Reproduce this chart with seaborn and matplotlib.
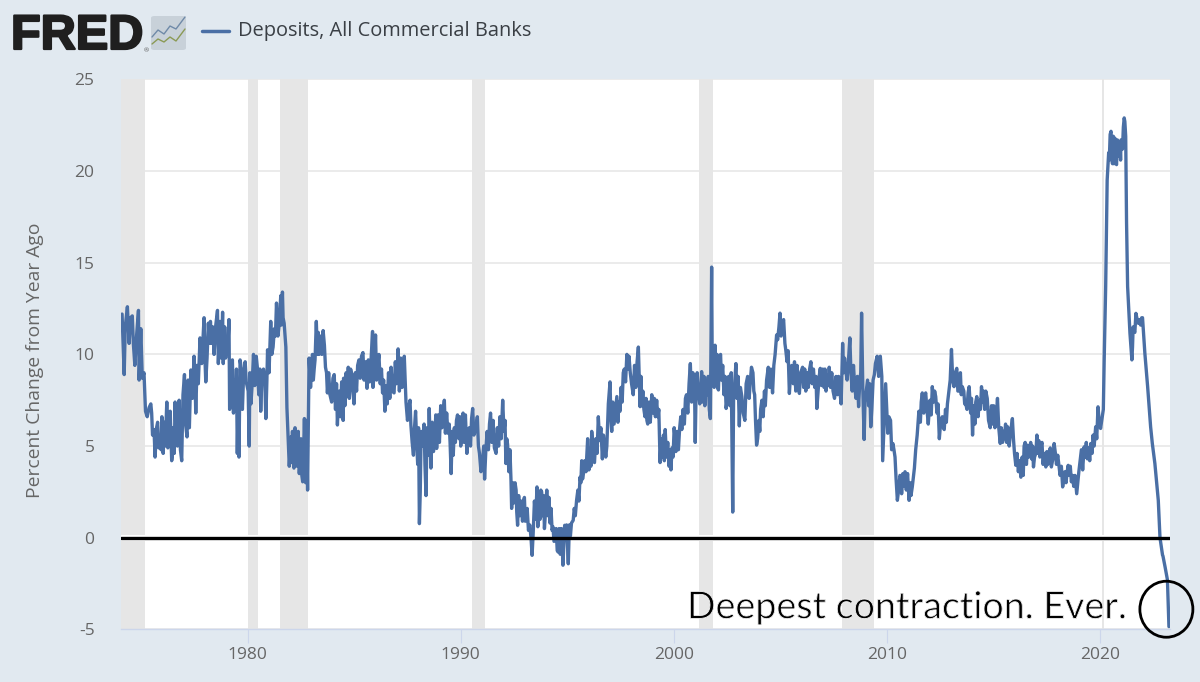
import numpy as np
import pandas as pd
import seaborn as sns
import matplotlib.pyplot as plt
from matplotlib.lines import Line2D
from matplotlib.patches import Ellipse, FancyBboxPatch
import matplotlib.patheffects as pe

# values, one pair of lists per stretch of years
years_70s = [1974.1,1974.2,1974.25,1974.35,1974.43,1974.5,1974.58,1974.63,1974.7,1974.78,
             1974.87,1974.9,1974.98,1975.05,1975.13,1975.2,1975.45,1975.53,1975.65,1975.72,
             1975.82,1975.97,1976.03,1976.2,1976.3,1976.43,1976.5,1976.59,1976.7,1976.78,
             1976.9,1977.03,1977.15,1977.33,1977.48,1977.56,1977.76,1977.95,1978.03,1978.15,
             1978.3,1978.58,1978.62,1978.82,1978.85,1979.0,1979.12,1979.15,1979.28,1979.33,
             1979.51,1979.59,1979.64,1979.75,1979.88]
pct_70s = [12.2,8.9,11.5,12.6,10.6,12.0,12.1,10.6,9.4,11.0,
           12.4,8.6,11.4,8.7,9.0,6.9,7.3,5.6,4.4,6.0,
           4.9,6.6,4.6,7.4,5.4,4.2,6.0,7.4,5.0,7.5,
           4.2,8.9,5.5,9.15,9.9,6.8,10.9,12.0,8.5,11.7,
           10.6,12.4,9.5,12.3,9.5,10.6,11.9,7.0,9.7,6.8,
           4.6,4.4,9.7,7.0,9.6]

years_80s = [1980.07,1980.15,1980.27,1980.45,1980.61,1980.74,1980.85,1980.93,1981.08,1981.19,
             1981.35,1981.48,1981.63,1981.71,1981.79,1981.84,1981.95,1982.1,1982.17,1982.26,
             1982.42,1982.58,1982.66,1982.81,1982.88,1982.95,1983.12,1983.22,1983.35,1983.54,
             1983.74,1983.94,1984.06,1984.21,1984.3,1984.48,1984.5,1984.72,1984.77,1984.9,
             1984.99,1985.22,1985.41,1985.6,1985.86,1985.88,1986.0,1986.1,1986.44,1986.73,
             1986.87,1987.06,1987.25,1987.35,1987.43,1987.57,1987.66,1987.78,1987.88,1988.06,
             1988.2,1988.37,1988.52,1988.6,1988.83,1988.87,1989.06,1989.23,1989.4,1989.55,
             1989.85,1990.0]
pct_80s = [5.0,7.3,10.0,9.3,6.9,9.2,6.5,10.25,11.8,10.4,
           12.8,11.7,13.4,11.7,10.4,7.1,3.9,5.8,3.8,5.3,
           3.5,3.05,6.5,2.6,9.8,8.2,9.2,11.8,10.0,11.3,
           7.9,7.4,8.9,6.15,8.0,6.4,8.7,9.3,7.6,8.8,
           7.3,9.7,10.1,8.15,11.25,8.2,11.06,9.4,6.9,9.3,
           7.9,10.3,8.2,9.9,7.4,7.2,6.15,4.5,6.9,0.77,
           5.0,2.3,7.05,3.8,6.7,4.87,7.2,7.5,5.7,3.5,
           6.7,5.0]

years_90s = [1990.11,1990.29,1990.56,1990.7,1990.95,1991.12,1991.4,1991.66,1991.97,1992.12,
             1992.2,1992.36,1992.39,1992.6,1992.67,1992.99,1993.07,1993.35,1993.58,1993.62,
             1993.8,1993.93,1994.04,1994.33,1994.44,1994.57,1994.8,1994.88,1995.05,1995.28,
             1995.44,1995.6,1995.68,1995.76,1995.96,1996.02,1996.15,1996.28,1996.46,1996.65,
             1996.86,1996.93,1997.01,1997.09,1997.33,1997.48,1997.63,1997.8,1997.96,1998.1,
             1998.34,1998.42,1998.65,1998.78,1998.97,1999.2,1999.36,1999.6,1999.87]
pct_90s = [6.8,4.6,7.05,5.9,3.6,3.2,6.8,4.6,7.5,4.05,
           5.1,3.14,1.6,2.6,0.68,2.2,1.0,-0.96,2.77,0.6,
           2.5,0.5,2.6,0.6,-0.14,-0.78,-1.5,0.68,-1.42,0.95,
           2.05,3.3,4.2,3.5,5.4,3.7,5.8,4.1,6.6,4.3,
           5.0,7.3,8.5,5.8,7.7,6.9,9.0,10.0,9.0,7.8,
           10.4,7.15,6.6,6.2,7.8,7.5,4.1,5.9,3.7]

years_00s = [2000.02,2000.1,2000.33,2000.6,2000.78,2000.98,2001.01,2001.1,2001.22,2001.31,
             2001.5,2001.72,2001.78,2001.86,2001.94,2002.1,2002.2,2002.46,2002.7,2002.77,
             2002.81,2002.92,2003.08,2003.2,2003.34,2003.47,2003.65,2003.8,2003.89,2004.08,
             2004.3,2004.44,2004.64,2004.83,2004.99,2005.1,2005.26,2005.43,2005.67,2005.9,
             2006.05,2006.2,2006.44,2006.72,2006.88,2007.15,2007.3,2007.55,2007.86,2007.93,
             2008.08,2008.27,2008.5,2008.68,2008.82,2008.94,2009.1,2009.25,2009.42,2009.55,
             2009.7,2009.77]
pct_00s = [6.0,4.7,6.6,7.8,9.5,7.9,5.2,9.0,7.3,9.06,
           8.5,6.5,14.76,8.4,10.5,8.06,10.0,7.05,9.0,1.4,
           7.5,9.5,6.1,7.7,6.4,8.8,9.3,7.8,5.05,7.0,
           7.2,9.3,7.9,11.06,12.25,11.7,10.25,7.87,9.6,7.87,
           9.3,8.0,9.6,7.05,9.24,8.0,9.3,7.6,7.3,10.6,
           9.1,10.9,8.2,7.15,12.25,5.36,8.6,6.05,8.9,9.9,
           9.9,8.8]

years_10s = [2009.81,2009.95,2010.05,2010.18,2010.29,2010.39,2010.5,2010.66,2010.86,2011.05,
             2011.2,2011.36,2011.51,2011.67,2011.83,2011.95,2012.14,2012.3,2012.47,2012.61,
             2012.7,2012.85,2013.04,2013.16,2013.29,2013.4,2013.55,2013.71,2013.87,2014.03,
             2014.23,2014.29,2014.45,2014.65,2014.86,2015.02,2015.13,2015.2,2015.33,2015.52,
             2015.68,2015.75,2015.9,2016.06,2016.3,2016.45,2016.61,2016.76,2016.89,2017.05,
             2017.24,2017.47,2017.62,2017.73,2017.86,2018.09,2018.26,2018.52,2018.67,2018.92,
             2019.08,2019.27,2019.42,2019.58,2019.74,2019.81,2019.92]
pct_10s = [4.2,8.4,5.7,6.4,5.14,4.4,2.04,3.3,3.6,2.04,
           2.77,4.8,6.9,7.9,7.9,6.2,8.24,7.7,5.4,6.6,
           5.9,7.3,10.27,8.24,9.24,8.0,8.24,7.3,8.24,5.6,
           7.7,6.6,8.24,8.0,6.0,7.2,6.4,7.6,5.14,5.4,
           6.05,5.0,6.5,3.95,3.3,5.0,5.05,5.2,3.86,5.6,
           5.0,3.86,4.6,3.86,5.14,3.9,2.77,3.95,3.05,2.4,
           4.2,4.96,4.3,5.14,5.0,6.05,7.14]

years_20s = [2020.04,2020.17,2020.21,2020.28,2020.35,2020.42,2020.53,2020.6,2020.71,2020.79,
             2020.95,2021.03,2021.15,2021.22,2021.26,2021.31,2021.42,2021.51,2021.57,2021.7,
             2021.81,2022.01,2022.12,2022.25,2022.39,2022.47,2022.59,2022.75,2022.83,2022.95,
             2022.97,2023.07,2023.18,2023.25]
pct_20s = [5.96,7.0,9.7,13.7,19.5,21.0,22.17,20.4,21.8,20.35,
           21.5,21.7,22.9,21.9,17.2,13.7,11.15,9.7,11.5,12.24,
           11.7,12.0,10.06,8.24,6.05,5.14,4.05,2.04,0.0,-0.95,
           -1.0,-1.6,-2.3,-4.85]

# the weekly wiggle inside the band, second reading of the same line
wiggle_70s = [(1975.28,6.6),(1975.37,7.1),(1975.49,6.8),(1975.6,5.9),(1975.77,6.3),(1975.88,5.2),(1975.93,4.8),
              (1976.08,6.3),(1976.13,5.0),(1976.25,4.9),(1976.36,6.9),(1976.47,4.6),(1976.55,4.6),(1976.64,5.3),
              (1976.74,7.0),(1976.84,4.8),(1976.96,7.8),(1977.08,6.2),(1977.2,8.6),(1977.26,6.0),(1977.4,7.6),
              (1977.52,8.9),(1977.62,9.4),(1977.68,8.4),(1977.84,9.5),(1977.9,10.9),(1977.99,9.8),(1978.09,9.8),
              (1978.2,10.6),(1978.25,11.8),(1978.36,11.5),(1978.42,10.0),(1978.5,11.6),(1978.7,11.8),(1978.76,9.8),
              (1978.92,11.5),(1978.96,9.8),(1979.06,10.2),(1979.22,8.7),(1979.38,8.6),(1979.43,6.9),(1979.47,9.2),
              (1979.55,7.3),(1979.7,9.2),(1979.8,8.7),(1979.93,8.5)]
wiggle_80s = [(1980.02,8.0),(1980.1,9.0),(1980.21,8.4),(1980.33,8.3),(1980.4,9.9),(1980.52,7.8),(1980.57,9.2),
              (1980.67,9.0),(1980.8,8.6),(1980.9,8.6),(1981.0,9.0),(1981.13,10.0),(1981.25,11.4),(1981.3,11.0),
              (1981.42,11.0),(1981.55,13.2),(1981.58,11.6),(1981.66,12.0),(1982.03,5.5),(1982.07,4.1),(1982.14,4.2),
              (1982.22,6.0),(1982.32,3.9),(1982.37,5.8),(1982.5,5.4),(1982.54,3.4),(1982.62,4.6),(1982.72,3.0),
              (1982.76,6.4),(1983.04,10.0),(1983.08,8.6),(1983.16,9.7),(1983.27,10.0),(1983.31,11.2),(1983.42,11.0),
              (1983.48,10.0),(1983.6,10.5),(1983.65,9.3),(1983.7,9.0),(1983.8,9.0),(1983.86,7.8),(1984.0,8.7),
              (1984.12,7.0),(1984.17,8.4),(1984.26,7.5),(1984.35,6.6),(1984.41,8.5),(1984.56,7.2),(1984.62,9.0),
              (1984.67,7.7),(1984.83,9.2),(1984.94,8.0),(1985.05,9.0),(1985.11,8.0),(1985.16,9.4),(1985.28,8.7),
              (1985.34,9.9),(1985.46,8.6),(1985.52,9.6),(1985.66,9.7),(1985.72,8.5),(1985.78,9.5),(1985.94,9.0),
              (1986.05,8.6),(1986.16,10.0),(1986.22,8.4),(1986.28,9.2),(1986.33,7.9),(1986.38,8.6),(1986.5,8.3),
              (1986.55,7.3),(1986.61,9.0),(1986.67,7.6),(1986.79,8.0),(1986.93,9.6),(1986.98,8.4),(1987.02,9.2),
              (1987.12,8.0),(1987.18,9.8),(1987.22,8.2),(1987.3,8.5),(1987.5,6.4),(1987.62,7.5),(1987.72,5.2),
              (1987.83,6.0),(1987.94,5.0),(1987.98,4.0),(1988.02,6.0),(1988.1,2.5),(1988.14,5.8),(1988.28,6.2),
              (1988.32,4.0),(1988.42,6.0),(1988.47,4.5),(1988.56,5.5),(1988.66,6.3),(1988.72,4.7),(1988.78,5.5),
              (1988.94,6.7),(1989.0,5.2),(1989.12,6.0),(1989.18,6.9),(1989.28,5.7),(1989.34,6.8),(1989.46,6.2),
              (1989.5,5.2),(1989.6,5.8),(1989.65,4.5),(1989.7,6.0),(1989.75,5.2),(1989.8,6.4),(1989.92,5.4),(1989.96,6.6)]
wiggle_90s = [(1990.05,6.0),(1990.16,5.2),(1990.22,6.7),(1990.34,5.6),(1990.4,6.0),(1990.46,5.0),(1990.51,6.5),
              (1990.62,5.6),(1990.78,6.6),(1990.83,5.0),(1990.88,4.6),(1991.03,4.3),(1991.08,5.0),(1991.18,4.8),
              (1991.24,5.8),(1991.3,4.8),(1991.35,6.2),(1991.46,5.2),(1991.52,6.4),(1991.58,4.9),(1991.72,6.0),
              (1991.78,5.0),(1991.84,6.6),(1991.9,5.4),(1992.03,5.8),(1992.08,6.4),(1992.16,5.4),(1992.26,3.6),
              (1992.31,4.8),(1992.44,3.0),(1992.5,1.9),(1992.55,3.0),(1992.63,1.4),(1992.72,2.3),(1992.78,1.2),
              (1992.84,2.0),(1992.9,0.9),(1992.95,2.0),(1993.03,0.9),(1993.12,1.6),(1993.18,0.4),(1993.24,0.7),
              (1993.3,0.0),(1993.4,0.2),(1993.46,2.0),(1993.52,1.0),(1993.67,2.4),(1993.72,1.0),(1993.76,2.6),
              (1993.85,1.2),(1993.89,2.3),(1993.98,1.4),(1994.09,1.2),(1994.14,2.2),(1994.19,0.8),(1994.24,1.6),
              (1994.29,0.4),(1994.38,-0.2),(1994.48,0.5),(1994.53,-0.7),(1994.62,0.5),(1994.67,-0.9),(1994.73,0.5),
              (1994.92,0.2),(1994.97,0.7),(1995.1,0.7),(1995.15,0.1),(1995.2,0.8),(1995.33,1.6),(1995.38,1.2),
              (1995.5,2.6),(1995.55,2.0),(1995.64,3.0),(1995.72,3.2),(1995.82,4.2),(1995.88,3.6),(1996.07,4.8),
              (1996.11,3.9),(1996.2,5.0),(1996.24,4.2),(1996.34,5.4),(1996.4,4.6),(1996.52,5.3),(1996.58,6.0),
              (1996.7,5.6),(1996.76,5.0),(1996.81,4.4),(1997.05,6.5),(1997.14,7.4),(1997.2,6.2),(1997.27,7.0),
              (1997.38,6.3),(1997.43,7.4),(1997.53,8.2),(1997.58,7.4),(1997.68,9.2),(1997.74,8.5),(1997.84,9.2),
              (1997.9,9.9),(1998.02,8.4),(1998.16,9.4),(1998.22,8.2),(1998.28,9.6),(1998.46,8.8),(1998.5,7.2),
              (1998.55,8.0),(1998.6,7.0),(1998.7,7.6),(1998.74,6.4),(1998.84,7.4),(1998.9,6.3),(1999.03,6.8),
              (1999.09,7.6),(1999.14,6.6),(1999.25,6.6),(1999.3,7.0),(1999.41,5.4),(1999.46,4.4),(1999.52,5.6),
              (1999.56,4.2),(1999.66,4.4),(1999.72,5.2),(1999.78,3.9),(1999.82,4.8),(1999.92,4.9),(1999.97,4.4)]
wiggle_00s = [(2000.06,5.5),(2000.16,5.8),(2000.22,4.8),(2000.28,6.0),(2000.38,5.9),(2000.44,7.0),(2000.5,6.2),
              (2000.55,7.6),(2000.66,6.8),(2000.72,8.4),(2000.84,7.4),(2000.9,9.0),(2001.05,8.0),(2001.16,8.0),
              (2001.26,7.5),(2001.36,7.4),(2001.42,8.8),(2001.46,7.2),(2001.56,7.8),(2001.62,8.8),(2001.67,7.0),
              (2001.81,9.0),(2001.9,8.2),(2001.98,9.0),(2002.03,10.0),(2002.06,8.2),(2002.14,9.8),(2002.24,8.6),
              (2002.3,9.4),(2002.36,7.8),(2002.41,8.8),(2002.52,7.6),(2002.58,8.8),(2002.64,7.2),(2002.86,8.4),
              (2002.97,7.6),(2003.02,8.8),(2003.13,8.2),(2003.26,6.8),(2003.4,8.4),(2003.54,7.6),(2003.6,8.6),
              (2003.72,9.0),(2003.76,8.0),(2003.84,6.4),(2003.94,5.4),(2004.0,6.4),(2004.04,5.8),(2004.14,7.5),
              (2004.2,6.6),(2004.26,8.0),(2004.36,8.6),(2004.5,8.2),(2004.56,9.2),(2004.7,9.4),(2004.76,10.0),
              (2004.88,10.8),(2004.94,11.5),(2005.04,11.0),(2005.16,11.9),(2005.22,10.6),(2005.32,9.6),(2005.37,10.2),
              (2005.48,8.8),(2005.54,9.4),(2005.61,8.4),(2005.73,8.0),(2005.79,9.4),(2005.85,8.4),(2005.96,9.0),
              (2006.1,8.2),(2006.15,9.2),(2006.26,9.0),(2006.32,8.2),(2006.38,9.2),(2006.5,8.4),(2006.56,9.2),
              (2006.62,8.2),(2006.68,8.8),(2006.78,8.0),(2006.83,8.8),(2006.94,8.3),(2007.0,9.2),(2007.06,8.2),
              (2007.1,9.2),(2007.2,8.9),(2007.25,8.3),(2007.36,8.2),(2007.42,9.0),(2007.48,8.0),(2007.62,8.8),
              (2007.68,7.8),(2007.74,8.8),(2007.8,8.0),(2007.98,9.0),(2008.02,9.8),(2008.14,8.6),(2008.2,9.6),
              (2008.32,9.0),(2008.38,8.0),(2008.44,9.4),(2008.56,7.6),(2008.62,8.8),(2008.74,8.6),(2008.78,9.0),
              (2008.88,8.0),(2008.98,7.4),(2009.04,8.0),(2009.15,7.2),(2009.2,8.4),(2009.3,7.0),(2009.36,8.6),
              (2009.47,9.5),(2009.62,8.8),(2009.66,9.8)]
wiggle_10s = [(2010.1,6.6),(2010.23,4.8),(2010.34,4.8),(2010.44,3.2),(2010.58,2.8),(2010.62,3.4),(2010.7,2.4),
              (2010.76,3.5),(2010.82,2.8),(2010.92,2.6),(2010.98,3.5),(2011.1,3.0),(2011.14,2.3),(2011.26,3.4),
              (2011.3,3.8),(2011.43,5.6),(2011.58,6.3),(2011.62,7.4),(2011.74,6.8),(2011.78,7.7),(2011.89,7.0),
              (2012.03,7.5),(2012.09,6.7),(2012.2,7.4),(2012.25,8.0),(2012.36,6.8),(2012.41,7.3),(2012.54,6.4),
              (2012.66,6.0),(2012.76,7.0),(2012.8,6.3),(2012.92,8.0),(2012.98,8.6),(2013.1,8.6),(2013.22,9.0),
              (2013.34,8.0),(2013.46,9.0),(2013.5,7.8),(2013.62,8.0),(2013.66,7.3),(2013.77,7.0),(2013.82,7.9),
              (2013.94,6.8),(2013.98,7.6),(2014.08,7.2),(2014.14,6.2),(2014.18,7.4),(2014.35,7.5),(2014.4,7.0),
              (2014.5,7.4),(2014.54,8.0),(2014.6,7.0),(2014.72,7.6),(2014.78,6.4),(2014.92,7.2),(2014.97,6.2),
              (2015.08,6.0),(2015.26,6.0),(2015.38,6.0),(2015.44,5.2),(2015.48,5.8),(2015.58,6.2),(2015.63,5.2),
              (2015.82,5.8),(2015.95,5.4),(2016.0,4.6),(2016.12,4.6),(2016.18,3.6),(2016.24,4.2),(2016.36,4.4),
              (2016.41,3.4),(2016.5,5.2),(2016.56,4.0),(2016.66,4.4),(2016.72,4.9),(2016.8,4.3),(2016.85,5.0),
              (2016.94,4.4),(2017.0,4.6),(2017.1,4.6),(2017.14,5.3),(2017.19,4.4),(2017.29,5.2),(2017.34,4.0),
              (2017.4,4.6),(2017.52,4.7),(2017.57,4.0),(2017.68,4.9),(2017.8,4.3),(2017.92,4.6),(2017.97,4.0),
              (2018.03,4.5),(2018.14,3.4),(2018.2,3.9),(2018.31,3.2),(2018.36,3.6),(2018.42,3.0),(2018.47,3.6),
              (2018.57,3.4),(2018.62,3.9),(2018.72,3.4),(2018.78,2.8),(2018.84,3.4),(2018.97,3.0),(2019.02,3.6),
              (2019.14,4.8),(2019.2,3.7),(2019.32,4.4),(2019.37,5.2),(2019.48,4.9),(2019.53,4.2),(2019.64,4.6),
              (2019.69,5.6),(2019.86,5.4),(2019.98,6.3)]
wiggle_20s = [(2020.45,20.6),(2020.49,22.0),(2020.56,20.8),(2020.64,21.9),(2020.67,20.4),(2020.75,20.6),
              (2020.83,21.7),(2020.87,20.8),(2020.91,21.6),(2020.98,20.6),(2021.0,21.7),(2021.07,21.2),
              (2021.11,22.4),(2021.18,22.7),(2021.54,10.4),(2021.6,11.3),(2021.65,11.2),(2021.76,11.9),
              (2021.86,11.9),(2021.92,11.6),(2021.97,12.0)]

recession_start = [1973.9, 1980.0, 1981.51, 1990.53, 2001.18, 2007.9, 2020.1]
recession_end = [1975.18, 1980.48, 1982.83, 1991.14, 2001.85, 2009.4, 2020.22]
y_ticks = [-5, 0, 5, 10, 15, 20, 25]
x_ticks = [1980, 1990, 2000, 2010, 2020]

BG = '#e1e9f0'
BLUE = '#4a6fa5'
GREY_TEXT = '#666666'

wiggle = wiggle_70s + wiggle_80s + wiggle_90s + wiggle_00s + wiggle_10s + wiggle_20s
df = pd.DataFrame({
    'year': years_70s + years_80s + years_90s + years_00s + years_10s + years_20s + [w[0] for w in wiggle],
    'pct': pct_70s + pct_80s + pct_90s + pct_00s + pct_10s + pct_20s + [w[1] for w in wiggle],
})

sns.set_theme(style='white')
plt.rcParams['font.family'] = ['Open Sans', 'DejaVu Sans']
plt.rcParams['axes.unicode_minus'] = False

W, H = 1200, 682
fig = plt.figure(figsize=(W / 100, H / 100), dpi=100, facecolor=BG)
ax = fig.add_axes([121 / W, 1 - 629.4 / H, (1170 - 121) / W, (629.4 - 79.4) / H])


def fx(x):
    return x / W


def fy(y):
    return 1 - y / H


for a, b in zip(recession_start, recession_end):
    ax.axvspan(a, b, color='#e6e6e6', lw=0, zorder=1)

# white gap around the hand drawn zero line
ax.axhline(0, color='white', lw=4.4, zorder=1.5)
sns.lineplot(data=df, x='year', y='pct', estimator=None, color=BLUE,
             lw=2.4, ax=ax, zorder=2)
ax.axhline(0, color='black', lw=2.4, zorder=3)

ax.set_xlim(1974.05, 2023.3)
ax.set_ylim(-5, 25)
ax.set_xticks(x_ticks)
ax.set_yticks(y_ticks)
ax.set_facecolor('white')
ax.grid(axis='y', color='#e6e6e6', lw=1.1)
ax.grid(axis='x', visible=False)
ax.set_axisbelow(True)
for s in ['top', 'left', 'right']:
    ax.spines[s].set_visible(False)
ax.spines['bottom'].set_color('#ccd6eb')
ax.spines['bottom'].set_linewidth(1)
ax.tick_params(axis='x', length=10, width=0.8, color='#ccd6eb', labelcolor=GREY_TEXT,
               labelsize=12.5, pad=3, bottom=True)
ax.tick_params(axis='y', length=0, labelcolor=GREY_TEXT, labelsize=12.5, pad=19)
ax.set_xlabel('')
ax.set_ylabel('')
fig.text(fx(35), fy(360), 'Percent Change from Year Ago', rotation=90, color=GREY_TEXT,
         fontsize=13.9, ha='center', va='center')

# annotation added on top of the screenshot, white edge thins the letters
ax.text(2000 + (687 - 673.8) / 21.3, -4.4, 'Deepest contraction. Ever.', family=['Lato', 'DejaVu Sans'],
        fontsize=27.1, color='black', ha='left', va='baseline', zorder=5,
        path_effects=[pe.Normal(), pe.Stroke(linewidth=0.6, foreground='white')])
ax.add_patch(Ellipse((2023.13, -3.9), 53 / 21.3, 56 / 18.33, fill=False, ec='black', lw=2,
                     clip_on=False, zorder=5))

# legend
fig.add_artist(Line2D([fx(202), fx(229)], [fy(31), fy(31)], color=BLUE, lw=2.5))
fig.text(fx(238), fy(31), 'Deposits, All Commercial Banks', color='#3a3f45', fontsize=14.4,
         ha='left', va='center')

# FRED logo
fig.text(fx(11), fy(49), 'FRED', family=['Liberation Sans'], fontweight='bold', fontsize=35,
         color='#1f1f1f', ha='left', va='baseline',
         path_effects=[pe.withStroke(linewidth=1.6, foreground='#1f1f1f')])
fig.text(fx(146), fy(52), '®', fontsize=4.5, color='#555555', ha='center', va='baseline')
fig.add_artist(FancyBboxPatch((fx(151), fy(50)), 35 / W, 34 / H, boxstyle='round,pad=0,rounding_size=0.003',
                              fc='#c8d1d9', ec='none', transform=fig.transFigure))
logo_x = [152, 158, 164, 170, 176, 185]
fig.add_artist(Line2D([fx(v) for v in logo_x], [fy(v) for v in [37, 30, 34, 26, 29, 17]], color='#6f8aa8', lw=1))
fig.add_artist(Line2D([fx(v) for v in logo_x], [fy(v) for v in [44, 39, 42, 37, 41, 29]], color='#8b9a55', lw=1))

fig.savefig('out.png', dpi=100, facecolor=BG)
